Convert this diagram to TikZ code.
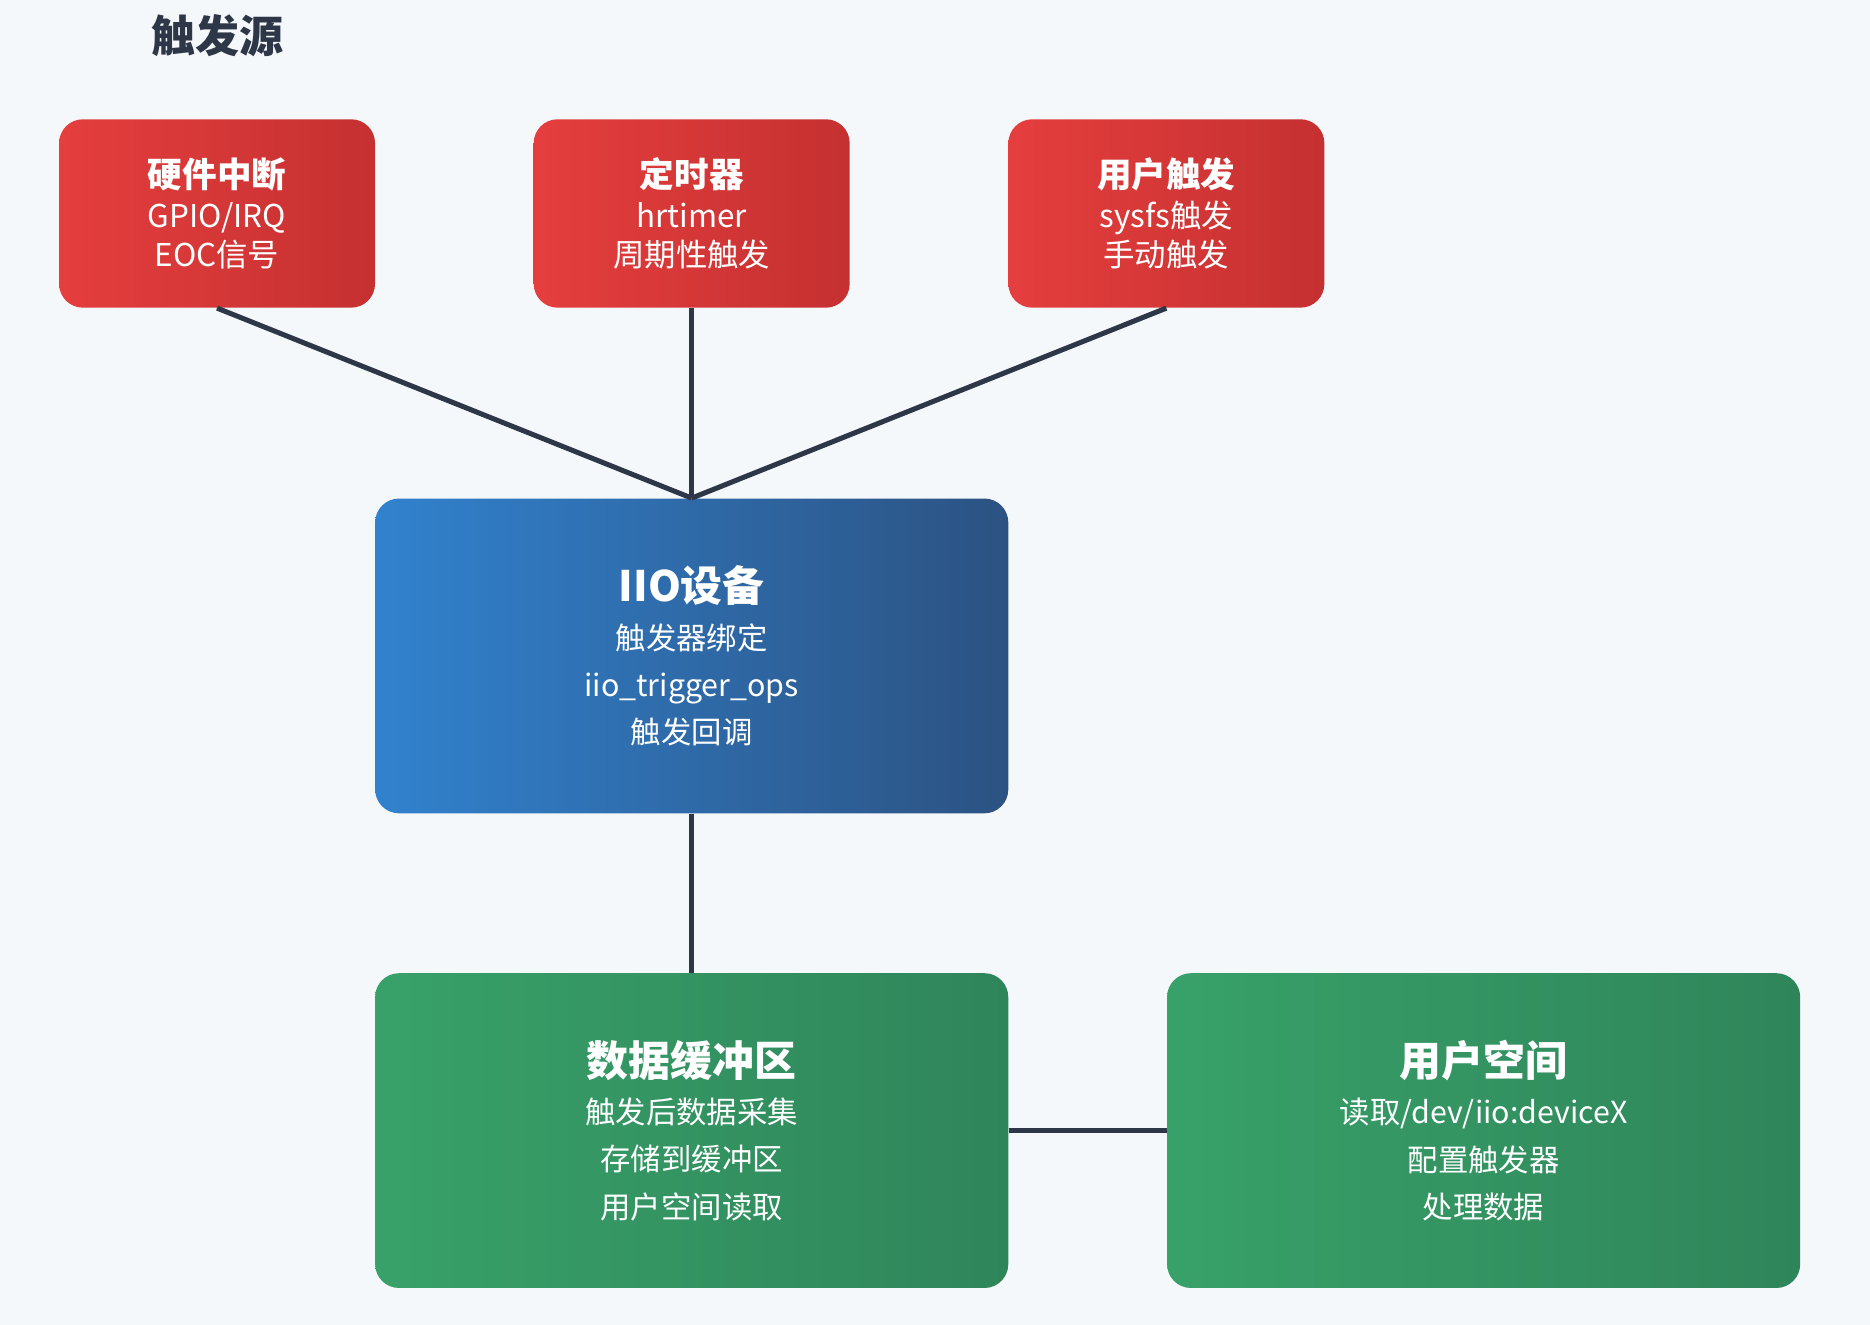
\documentclass[tikz,border=0pt]{standalone}
\usepackage{fontspec}
\setmainfont{Noto Sans CJK SC}
\usetikzlibrary{positioning}
\definecolor{bgpaper}{HTML}{F5F8FB}
\definecolor{inkdark}{HTML}{2D3748}
\definecolor{redA}{HTML}{E53E3E}
\definecolor{redB}{HTML}{C53030}
\definecolor{blueA}{HTML}{3182CE}
\definecolor{blueB}{HTML}{2C5282}
\definecolor{greenA}{HTML}{38A169}
\definecolor{greenB}{HTML}{2F855A}

\begin{document}
\begin{tikzpicture}[x=0.02cm,y=-0.02cm]
  \tikzstyle{box}=[rounded corners=0.4cm, text=white, align=center, inner sep=0pt, shading angle=135]
  \tikzstyle{src}=[box, left color=redA, right color=redB, minimum width=5.3cm, minimum height=3.16cm, font=\fontsize{15}{19}\selectfont]
  \tikzstyle{blk}=[box, minimum width=10.62cm, minimum height=5.28cm, font=\fontsize{14.5}{22.5}\selectfont]
  \tikzstyle{link}=[draw=inkdark, line width=2.4pt]
  \fill[bgpaper] (0,0) rectangle (1568,1111);
  \node[font=\bfseries\fontsize{21}{24}\selectfont, text=inkdark] (title) at (182,30) {触发源};

  \node[src] (hw) at (182,179) {{\bfseries\fontsize{16.5}{20}\selectfont 硬件中断}\\GPIO/IRQ\\EOC信号};
  \node[src] (timer) at (580,179) {{\bfseries\fontsize{16.5}{20}\selectfont 定时器}\\hrtimer\\周期性触发};
  \node[src] (user) at (978,179) {{\bfseries\fontsize{16.5}{20}\selectfont 用户触发}\\sysfs触发\\手动触发};

  \node[blk, left color=blueA, right color=blueB] (iio) at (580,550) {{\bfseries\fontsize{20}{30}\selectfont IIO设备}\\触发器绑定\\iio\_trigger\_ops\\触发回调};
  \node[blk, left color=greenA, right color=greenB] (buf) at (580,948) {{\bfseries\fontsize{20}{30}\selectfont 数据缓冲区}\\触发后数据采集\\存储到缓冲区\\用户空间读取};
  \node[blk, left color=greenA, right color=greenB] (space) at (1244,948) {{\bfseries\fontsize{20}{30}\selectfont 用户空间}\\读取/dev/iio:deviceX\\配置触发器\\处理数据};

  \draw[link] (hw.south) -- (iio.north);
  \draw[link] (timer.south) -- (iio.north);
  \draw[link] (user.south) -- (iio.north);
  \draw[link] (iio.south) -- (buf.north);
  \draw[link] (buf.east) -- (space.west);
\end{tikzpicture}
\end{document}
